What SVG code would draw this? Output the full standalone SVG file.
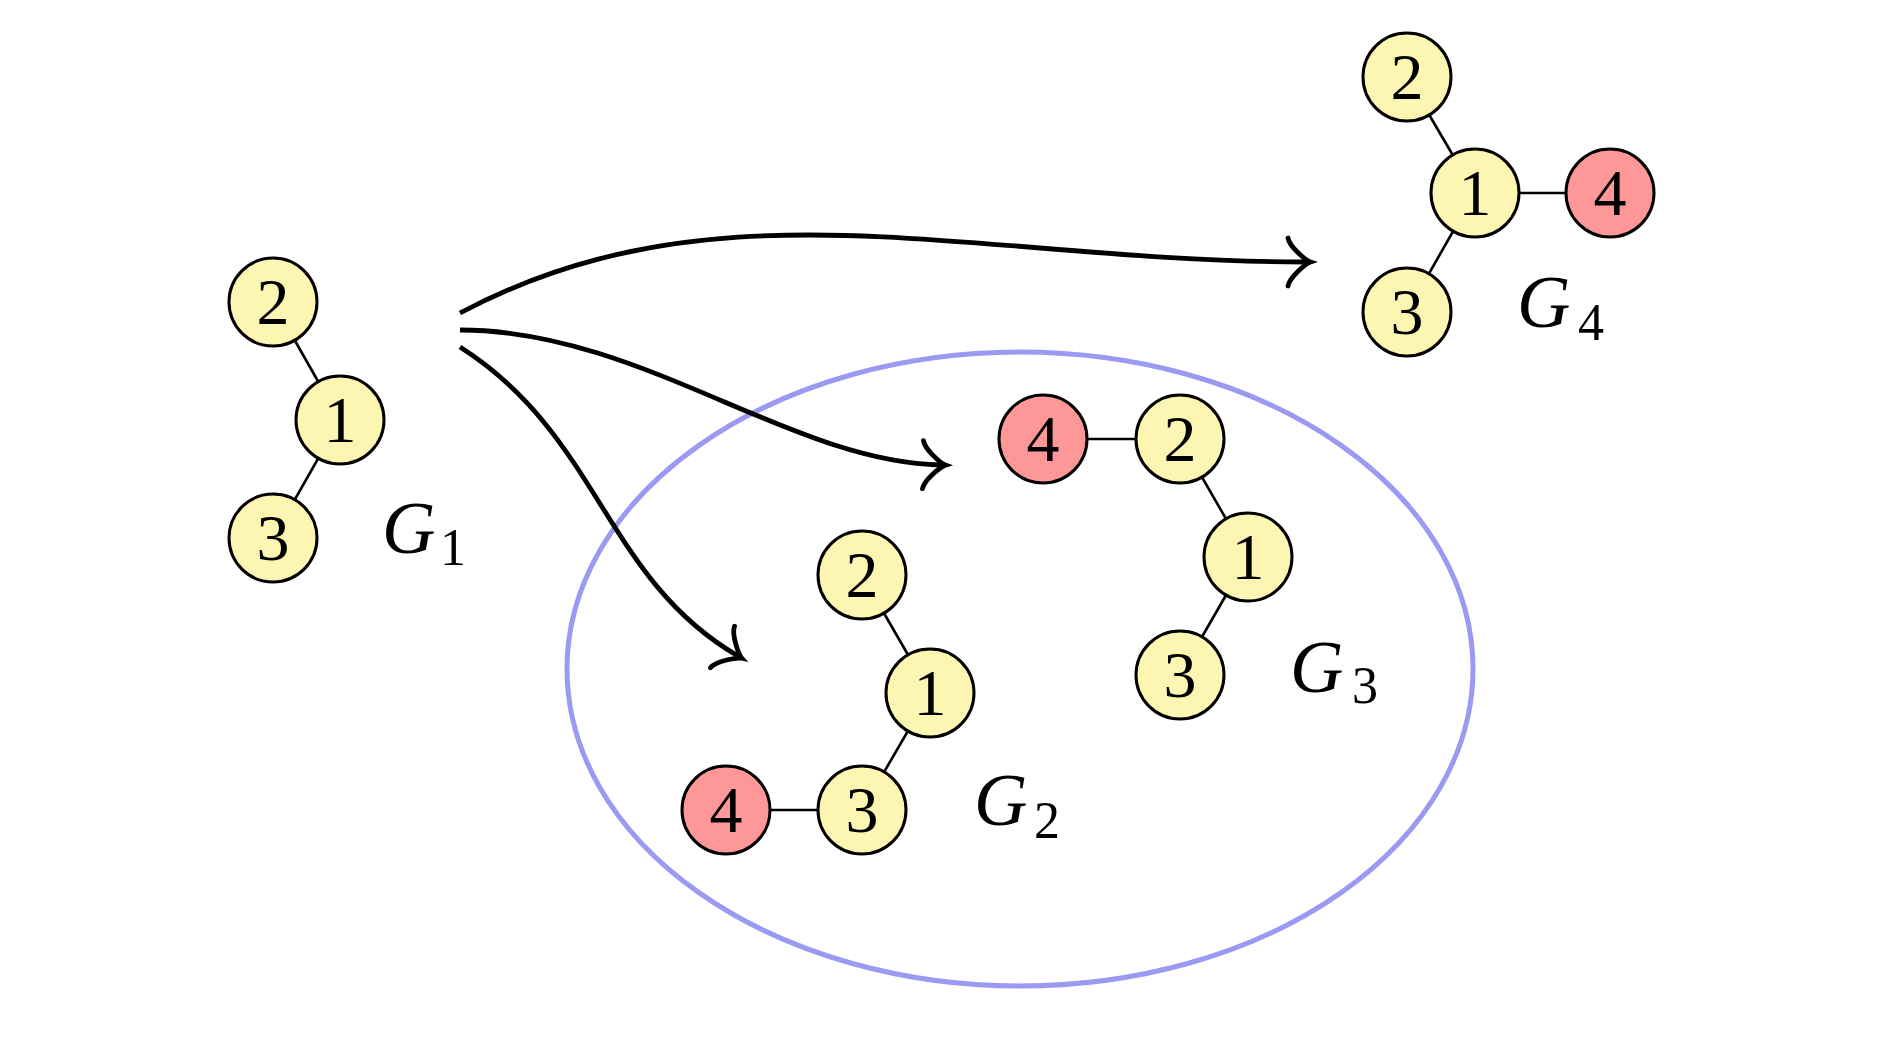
<svg xmlns="http://www.w3.org/2000/svg" width="1904" height="1064" viewBox="0 0 1904 1064">
<style>
.y{fill:#fdf6b2;stroke:#000;stroke-width:3}
.r{fill:#fe9898;stroke:#000;stroke-width:3}
.e{stroke:#000;stroke-width:2.6;fill:none}
.a{stroke:#000;stroke-width:4.8;fill:none}
.d{font-family:"Liberation Serif","DejaVu Serif",serif;font-size:66px;text-anchor:middle;fill:#000}
.g{font-family:"Liberation Serif","DejaVu Serif",serif;font-size:74px;font-style:italic;fill:#000}
.s{font-family:"Liberation Serif","DejaVu Serif",serif;font-size:52px;fill:#000}
</style>
<defs>
<marker id="to" markerUnits="userSpaceOnUse" viewBox="-25 -30 35 60" markerWidth="35" markerHeight="60" refX="0" refY="0" orient="auto" overflow="visible">
<path d="M -18,-24 C -16.5,-15 0,-1.5 4.5,0 C 0,1.5 -16.5,15 -18,24" fill="none" stroke="#000" stroke-width="4.8" stroke-linecap="round"/>
</marker>
</defs>
<rect width="1904" height="1064" fill="#fff"/>
<ellipse id="set" cx="1020" cy="669" rx="453" ry="317" fill="none" stroke="#9a9af2" stroke-width="5"/>
<g id="edges">
<line class="e" x1="273" y1="302" x2="340" y2="420"/>
<line class="e" x1="340" y1="420" x2="273" y2="538"/>
<line class="e" x1="1407" y1="77" x2="1475" y2="193"/>
<line class="e" x1="1475" y1="193" x2="1407" y2="312"/>
<line class="e" x1="1475" y1="193" x2="1610" y2="193"/>
<line class="e" x1="862" y1="575" x2="930" y2="693"/>
<line class="e" x1="930" y1="693" x2="862" y2="810"/>
<line class="e" x1="726" y1="810" x2="862" y2="810"/>
<line class="e" x1="1043" y1="439" x2="1180" y2="439"/>
<line class="e" x1="1180" y1="439" x2="1248" y2="557"/>
<line class="e" x1="1248" y1="557" x2="1180" y2="675"/>
</g>
<g id="connectors">
<path class="a" d="M 460,313 C 720,175 977,262 1306,262" marker-end="url(#to)"/>
<path class="a" d="M 460,330 C 640,330 790,462 941,465" marker-end="url(#to)"/>
<path class="a" d="M 460,347 C 600,436 604,578 738,656" marker-end="url(#to)"/>
</g>
<g id="G1">
<g id="G1-2"><circle class="y" cx="273" cy="302" r="44"/><text class="d" x="273" y="324">2</text></g>
<g id="G1-1"><circle class="y" cx="340" cy="420" r="44"/><text class="d" x="340" y="442">1</text></g>
<g id="G1-3"><circle class="y" cx="273" cy="538" r="44"/><text class="d" x="273" y="560">3</text></g>
<text class="g" x="382" y="553">G</text><text class="s" x="440" y="565">1</text>
</g>
<g id="G4">
<g id="G4-2"><circle class="y" cx="1407" cy="77" r="44"/><text class="d" x="1407" y="99">2</text></g>
<g id="G4-1"><circle class="y" cx="1475" cy="193" r="44"/><text class="d" x="1475" y="215">1</text></g>
<g id="G4-4"><circle class="r" cx="1610" cy="193" r="44"/><text class="d" x="1610" y="215">4</text></g>
<g id="G4-3"><circle class="y" cx="1407" cy="312" r="44"/><text class="d" x="1407" y="334">3</text></g>
<text class="g" x="1517" y="327">G</text><text class="s" x="1578" y="340">4</text>
</g>
<g id="G2">
<g id="G2-2"><circle class="y" cx="862" cy="575" r="44"/><text class="d" x="862" y="597">2</text></g>
<g id="G2-1"><circle class="y" cx="930" cy="693" r="44"/><text class="d" x="930" y="715">1</text></g>
<g id="G2-3"><circle class="y" cx="862" cy="810" r="44"/><text class="d" x="862" y="832">3</text></g>
<g id="G2-4"><circle class="r" cx="726" cy="810" r="44"/><text class="d" x="726" y="832">4</text></g>
<text class="g" x="974" y="825">G</text><text class="s" x="1034" y="838">2</text>
</g>
<g id="G3">
<g id="G3-4"><circle class="r" cx="1043" cy="439" r="44"/><text class="d" x="1043" y="461">4</text></g>
<g id="G3-2"><circle class="y" cx="1180" cy="439" r="44"/><text class="d" x="1180" y="461">2</text></g>
<g id="G3-1"><circle class="y" cx="1248" cy="557" r="44"/><text class="d" x="1248" y="579">1</text></g>
<g id="G3-3"><circle class="y" cx="1180" cy="675" r="44"/><text class="d" x="1180" y="697">3</text></g>
<text class="g" x="1290" y="692">G</text><text class="s" x="1352" y="703">3</text>
</g>
</svg>
